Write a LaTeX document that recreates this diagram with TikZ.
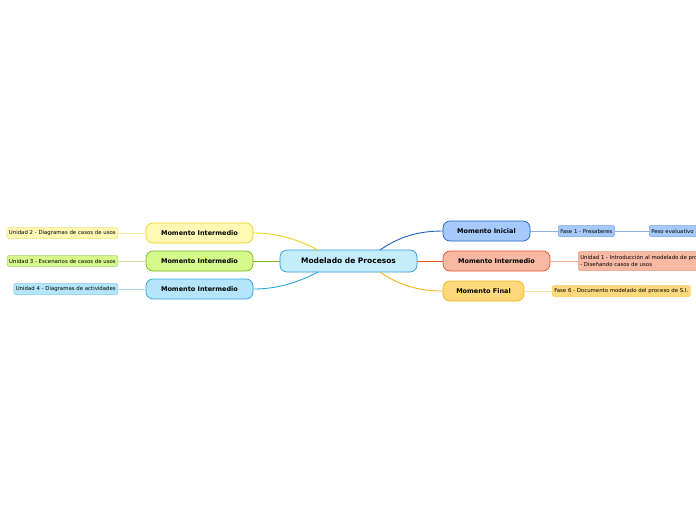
\documentclass[tikz,border=0pt]{standalone}
\usepackage{fontspec}
\setmainfont{DejaVu Sans}
\begin{document}
\begin{tikzpicture}[x=1pt,y=-1pt,
 mom/.style={rounded corners=7pt,draw,line width=0.7pt,minimum height=20pt,font=\fontsize{6.5}{7}\selectfont\bfseries,inner sep=0pt},
 leaf/.style={rounded corners=1.5pt,draw,line width=0.5pt,font=\fontsize{5.4}{6.5}\selectfont,inner sep=2pt,minimum height=11pt,align=left},
 con/.style={line width=0.9pt},
 lcon/.style={line width=0.5pt}]
\definecolor{cf}{HTML}{C5ECFB}\definecolor{cb}{HTML}{2E9BD6}
\definecolor{if}{HTML}{A6CAFB}\definecolor{ib}{HTML}{1D62C9}
\definecolor{rf}{HTML}{F8B9A4}\definecolor{rb}{HTML}{E0542A}
\definecolor{ff}{HTML}{FED97B}\definecolor{fb}{HTML}{F5B31A}
\definecolor{yf}{HTML}{FFF9B5}\definecolor{yb}{HTML}{EDD21B}
\definecolor{gf}{HTML}{D5F98A}\definecolor{gb}{HTML}{78B51B}
\definecolor{bf}{HTML}{B4E5FB}\definecolor{bb}{HTML}{2AA6E0}
\path[use as bounding box,fill=white] (0,0) rectangle (696,520);
\clip (0,0) rectangle (696,520);
\node[mom,fill=cf,draw=cb,minimum width=137pt,minimum height=22pt,font=\fontsize{7.5}{8}\selectfont\bfseries] (c) at (348.5,261) {Modelado de Procesos};
\node[mom,fill=if,draw=ib,minimum width=87pt] (mi) at (486.5,231) {Momento Inicial};
\node[mom,fill=rf,draw=rb,minimum width=107pt] (mr) at (496.5,261) {Momento Intermedio};
\node[mom,fill=ff,draw=fb,minimum width=81pt] (mf) at (483.5,291) {Momento Final};
\node[mom,fill=yf,draw=yb,minimum width=107pt] (my) at (199.5,233) {Momento Intermedio};
\node[mom,fill=gf,draw=gb,minimum width=107pt] (mg) at (199.5,261) {Momento Intermedio};
\node[mom,fill=bf,draw=bb,minimum width=107pt] (mb) at (199.5,289) {Momento Intermedio};
\node[leaf,fill=if,draw=ib!60,anchor=west] (f1) at (558,231) {Fase 1 - Presaberes};
\node[leaf,fill=if,draw=ib!60,anchor=west] (pe) at (649,231) {Peso evaluativo 10\%};
\node[leaf,fill=rf,draw=rb!60,anchor=west,minimum height=19pt] (u1) at (578,261) {Unidad 1 - Introducción al modelado de procesos\\- Diseñando casos de usos};
\node[leaf,fill=ff,draw=fb!70,anchor=west] (f6) at (552,291) {Fase 6 - Documento modelado del proceso de S.I.};
\node[leaf,fill=yf,draw=yb!60,anchor=east] (u2) at (118,233) {Unidad 2 - Diagramas de casos de usos};
\node[leaf,fill=gf,draw=gb!60,anchor=east] (u3) at (118,261) {Unidad 3 - Escenarios de casos de usos};
\node[leaf,fill=bf,draw=bb!60,anchor=east] (u4) at (118,289) {Unidad 4 - Diagramas de actividades};
\draw[con,ib] (380,250) .. controls (400,236) and (420,231) .. (mi.west);
\draw[con,rb] (c.east) -- (mr.west);
\draw[con,fb] (380,272) .. controls (400,286) and (420,291) .. (mf.west);
\draw[con,yb] (318,250) .. controls (295,238) and (275,233) .. (my.east);
\draw[con,gb] (c.west) -- (mg.east);
\draw[con,bb] (318,272) .. controls (295,284) and (275,289) .. (mb.east);
\draw[lcon,ib!50] (mi.east) -- (f1.west); \draw[lcon,ib!50] (f1.east) -- (pe.west);
\draw[lcon,rb!50] (mr.east) -- (u1.west);
\draw[lcon,fb!40] (mf.east) -- (f6.west);
\draw[lcon,yb!40] (my.west) -- (u2.east);
\draw[lcon,gb!40] (mg.west) -- (u3.east);
\draw[lcon,bb!40] (mb.west) -- (u4.east);
\end{tikzpicture}
\end{document}
